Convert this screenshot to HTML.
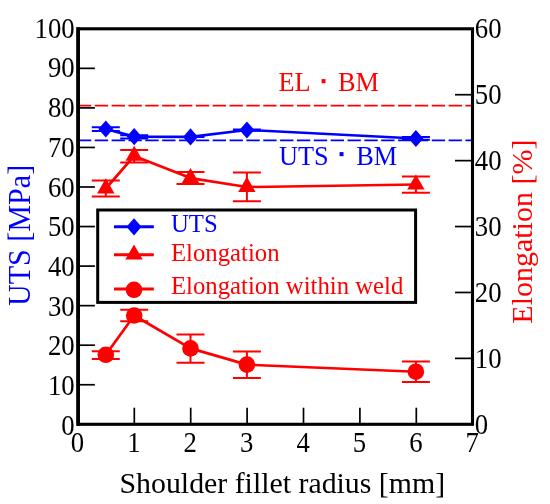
<!DOCTYPE html>
<html lang="en"><head><meta charset="utf-8"><title>UTS and elongation vs shoulder fillet radius</title>
<style>html,body{margin:0;padding:0;background:#fff}svg{display:block}text{font-family:'Liberation Serif', 'IPAGothic', serif}</style></head><body>
<svg width="550" height="504" viewBox="0 0 550 504">
<rect width="550" height="504" fill="#fff"/>
<line x1="78.30" y1="384.75" x2="94.90" y2="384.75" stroke="#000" stroke-width="1.7"/>
<line x1="78.30" y1="345.20" x2="94.90" y2="345.20" stroke="#000" stroke-width="1.7"/>
<line x1="78.30" y1="305.65" x2="94.90" y2="305.65" stroke="#000" stroke-width="1.7"/>
<line x1="78.30" y1="266.10" x2="94.90" y2="266.10" stroke="#000" stroke-width="1.7"/>
<line x1="78.30" y1="226.55" x2="94.90" y2="226.55" stroke="#000" stroke-width="1.7"/>
<line x1="78.30" y1="187.00" x2="94.90" y2="187.00" stroke="#000" stroke-width="1.7"/>
<line x1="78.30" y1="147.45" x2="94.90" y2="147.45" stroke="#000" stroke-width="1.7"/>
<line x1="78.30" y1="107.90" x2="94.90" y2="107.90" stroke="#000" stroke-width="1.7"/>
<line x1="78.30" y1="68.35" x2="94.90" y2="68.35" stroke="#000" stroke-width="1.7"/>
<line x1="455.00" y1="358.38" x2="472.50" y2="358.38" stroke="#000" stroke-width="1.7"/>
<line x1="455.00" y1="292.47" x2="472.50" y2="292.47" stroke="#000" stroke-width="1.7"/>
<line x1="455.00" y1="226.55" x2="472.50" y2="226.55" stroke="#000" stroke-width="1.7"/>
<line x1="455.00" y1="160.63" x2="472.50" y2="160.63" stroke="#000" stroke-width="1.7"/>
<line x1="455.00" y1="94.72" x2="472.50" y2="94.72" stroke="#000" stroke-width="1.7"/>
<line x1="134.30" y1="424.30" x2="134.30" y2="407.70" stroke="#000" stroke-width="1.7"/>
<line x1="190.70" y1="424.30" x2="190.70" y2="407.70" stroke="#000" stroke-width="1.7"/>
<line x1="247.10" y1="424.30" x2="247.10" y2="407.70" stroke="#000" stroke-width="1.7"/>
<line x1="303.50" y1="424.30" x2="303.50" y2="407.70" stroke="#000" stroke-width="1.7"/>
<line x1="359.90" y1="424.30" x2="359.90" y2="407.70" stroke="#000" stroke-width="1.7"/>
<line x1="416.30" y1="424.30" x2="416.30" y2="407.70" stroke="#000" stroke-width="1.7"/>
<line x1="77.90" y1="105.7" x2="472.50" y2="105.7" stroke="#ff0000" stroke-width="1.8" stroke-dasharray="13.35 3.5"/>
<line x1="77.90" y1="140.45" x2="472.50" y2="140.45" stroke="#0000ff" stroke-width="1.8" stroke-dasharray="13.35 3.5"/>
<polyline fill="none" stroke="#0000ff" stroke-width="2.7" stroke-linejoin="round" points="105.8,129.0 134.2,136.6 190.5,136.9 246.9,130.0"/>
<line x1="246.9" y1="130.0" x2="415.9" y2="138.5" stroke="#0000ff" stroke-width="2.5"/>
<path d="M91.8 127.3H119.8M91.8 131.1H119.8M105.8 127.3V131.1" stroke="#0000ff" stroke-width="2" fill="none"/>
<path d="M105.8 120.4L113.3 129.0L105.8 137.6L98.3 129.0Z" fill="#0000ff"/>
<path d="M120.2 135.2H148.2M120.2 138.6H148.2M134.2 135.2V138.6" stroke="#0000ff" stroke-width="2" fill="none"/>
<path d="M134.2 128.0L141.7 136.6L134.2 145.2L126.7 136.6Z" fill="#0000ff"/>
<path d="M176.5 136.9H204.5M176.5 136.9H204.5M190.5 136.9V136.9" stroke="#0000ff" stroke-width="2" fill="none"/>
<path d="M190.5 128.3L198.0 136.9L190.5 145.5L183.0 136.9Z" fill="#0000ff"/>
<path d="M232.9 129.5H260.9M232.9 130.7H260.9M246.9 129.5V130.7" stroke="#0000ff" stroke-width="2" fill="none"/>
<path d="M246.9 121.4L254.4 130.0L246.9 138.6L239.4 130.0Z" fill="#0000ff"/>
<path d="M401.9 137.1H429.9M401.9 139.8H429.9M415.9 137.1V139.8" stroke="#0000ff" stroke-width="2" fill="none"/>
<path d="M415.9 129.9L423.4 138.5L415.9 147.1L408.4 138.5Z" fill="#0000ff"/>
<polyline fill="none" stroke="#ff0000" stroke-width="2.7" stroke-linejoin="round" points="105.8,188.5 134.2,155.9 190.5,178.1 246.9,187.0"/>
<line x1="246.9" y1="187.0" x2="415.9" y2="184.6" stroke="#ff0000" stroke-width="2.5"/>
<path d="M91.8 180.4H119.8M91.8 196.6H119.8M105.8 180.4V196.6" stroke="#ff0000" stroke-width="2" fill="none"/>
<path d="M105.8 178.3L114.5 193.4L97.1 193.4Z" fill="#ff0000"/>
<path d="M120.2 149.9H148.2M120.2 162.4H148.2M134.2 149.9V162.4" stroke="#ff0000" stroke-width="2" fill="none"/>
<path d="M134.2 145.7L142.9 160.8L125.5 160.8Z" fill="#ff0000"/>
<path d="M176.5 172.1H204.5M176.5 184.1H204.5M190.5 172.1V184.1" stroke="#ff0000" stroke-width="2" fill="none"/>
<path d="M190.5 167.9L199.2 183.0L181.8 183.0Z" fill="#ff0000"/>
<path d="M232.9 172.6H260.9M232.9 201.2H260.9M246.9 172.6V201.2" stroke="#ff0000" stroke-width="2" fill="none"/>
<path d="M246.9 176.8L255.6 191.9L238.2 191.9Z" fill="#ff0000"/>
<path d="M401.9 176.4H429.9M401.9 192.8H429.9M415.9 176.4V192.8" stroke="#ff0000" stroke-width="2" fill="none"/>
<path d="M415.9 174.4L424.6 189.5L407.2 189.5Z" fill="#ff0000"/>
<polyline fill="none" stroke="#ff0000" stroke-width="2.7" stroke-linejoin="round" points="105.8,354.8 134.2,315.5 190.5,348.4 246.9,364.6"/>
<line x1="246.9" y1="364.6" x2="415.9" y2="371.7" stroke="#ff0000" stroke-width="2.5"/>
<path d="M91.8 351.3H119.8M91.8 359.1H119.8M105.8 351.3V359.1" stroke="#ff0000" stroke-width="2" fill="none"/>
<circle cx="105.8" cy="354.8" r="8.3" fill="#ff0000"/>
<path d="M120.2 309.8H148.2M120.2 321.3H148.2M134.2 309.8V321.3" stroke="#ff0000" stroke-width="2" fill="none"/>
<circle cx="134.2" cy="315.5" r="8.3" fill="#ff0000"/>
<path d="M176.5 334.6H204.5M176.5 362.8H204.5M190.5 334.6V362.8" stroke="#ff0000" stroke-width="2" fill="none"/>
<circle cx="190.5" cy="348.4" r="8.3" fill="#ff0000"/>
<path d="M232.9 351.4H260.9M232.9 378.0H260.9M246.9 351.4V378.0" stroke="#ff0000" stroke-width="2" fill="none"/>
<circle cx="246.9" cy="364.6" r="8.3" fill="#ff0000"/>
<path d="M401.9 361.6H429.9M401.9 382.0H429.9M415.9 361.6V382.0" stroke="#ff0000" stroke-width="2" fill="none"/>
<circle cx="415.9" cy="371.7" r="8.3" fill="#ff0000"/>
<rect x="97.7" y="210.0" width="317.9" height="92.4" fill="#fff" stroke="#000" stroke-width="3"/>
<line x1="114" y1="226.8" x2="153.8" y2="226.8" stroke="#0000ff" stroke-width="2.9"/>
<path d="M134.0 218.2L141.5 226.8L134.0 235.4L126.5 226.8Z" fill="#0000ff"/>
<line x1="114" y1="254.7" x2="153.8" y2="254.7" stroke="#ff0000" stroke-width="2.9"/>
<path d="M134.0 244.5L142.7 259.6L125.3 259.6Z" fill="#ff0000"/>
<line x1="114" y1="289.0" x2="153.8" y2="289.0" stroke="#ff0000" stroke-width="2.9"/>
<circle cx="134.0" cy="289.8" r="8.3" fill="#ff0000"/>
<text transform="translate(171.00 232.40) scale(1.0000 0.9850)" font-size="24.75" fill="#0000ff" text-anchor="start">UTS</text>
<text transform="translate(171.00 260.80) scale(1.0000 0.9850)" font-size="24.75" fill="#ff0000" text-anchor="start">Elongation</text>
<text transform="translate(171.00 294.20) scale(1.0000 0.9750)" font-size="24.75" fill="#ff0000" text-anchor="start">Elongation within weld</text>
<text transform="translate(278.50 91.00) scale(1.0000 1.0400)" font-size="26.3" fill="#ff0000" text-anchor="start">EL<tspan font-size="29.5" dx="-1.6" dy="1.6">・</tspan><tspan dx="-0.6" dy="-1.6">BM</tspan></text>
<text transform="translate(279.00 164.60) scale(1.0000 1.0400)" font-size="26.3" fill="#0000ff" text-anchor="start">UTS<tspan font-size="29.5" dx="-1.6" dy="1.6">・</tspan><tspan dx="-0.4" dy="-1.6">BM</tspan></text>
<rect x="78.30" y="28.80" width="394.20" height="395.50" fill="none" stroke="#000" stroke-width="3.1"/>
<line x1="78.05" y1="27.25" x2="78.05" y2="425.85" stroke="#000" stroke-width="3.7"/>
<text transform="translate(74.70 434.60) scale(0.9300 1.0000)" font-size="28.8" fill="#000" text-anchor="end">0</text>
<text transform="translate(74.70 394.92) scale(0.9300 1.0000)" font-size="28.8" fill="#000" text-anchor="end">10</text>
<text transform="translate(74.70 355.24) scale(0.9300 1.0000)" font-size="28.8" fill="#000" text-anchor="end">20</text>
<text transform="translate(74.70 315.56) scale(0.9300 1.0000)" font-size="28.8" fill="#000" text-anchor="end">30</text>
<text transform="translate(74.70 275.88) scale(0.9300 1.0000)" font-size="28.8" fill="#000" text-anchor="end">40</text>
<text transform="translate(74.70 236.20) scale(0.9300 1.0000)" font-size="28.8" fill="#000" text-anchor="end">50</text>
<text transform="translate(74.70 196.52) scale(0.9300 1.0000)" font-size="28.8" fill="#000" text-anchor="end">60</text>
<text transform="translate(74.70 156.84) scale(0.9300 1.0000)" font-size="28.8" fill="#000" text-anchor="end">70</text>
<text transform="translate(74.70 117.16) scale(0.9300 1.0000)" font-size="28.8" fill="#000" text-anchor="end">80</text>
<text transform="translate(74.70 77.48) scale(0.9300 1.0000)" font-size="28.8" fill="#000" text-anchor="end">90</text>
<text transform="translate(74.70 37.80) scale(0.9300 1.0000)" font-size="28.8" fill="#000" text-anchor="end">100</text>
<text transform="translate(474.80 434.05) scale(0.9300 1.0000)" font-size="28.8" fill="#000" text-anchor="start">0</text>
<text transform="translate(474.80 367.97) scale(0.9300 1.0000)" font-size="28.8" fill="#000" text-anchor="start">10</text>
<text transform="translate(474.80 301.90) scale(0.9300 1.0000)" font-size="28.8" fill="#000" text-anchor="start">20</text>
<text transform="translate(474.80 235.83) scale(0.9300 1.0000)" font-size="28.8" fill="#000" text-anchor="start">30</text>
<text transform="translate(474.80 169.75) scale(0.9300 1.0000)" font-size="28.8" fill="#000" text-anchor="start">40</text>
<text transform="translate(474.80 103.68) scale(0.9300 1.0000)" font-size="28.8" fill="#000" text-anchor="start">50</text>
<text transform="translate(474.80 37.60) scale(0.9300 1.0000)" font-size="28.8" fill="#000" text-anchor="start">60</text>
<text transform="translate(77.50 451.60) scale(0.9300 1.0000)" font-size="28.8" fill="#000" text-anchor="middle">0</text>
<text transform="translate(133.90 451.60) scale(0.9300 1.0000)" font-size="28.8" fill="#000" text-anchor="middle">1</text>
<text transform="translate(190.30 451.60) scale(0.9300 1.0000)" font-size="28.8" fill="#000" text-anchor="middle">2</text>
<text transform="translate(246.70 451.60) scale(0.9300 1.0000)" font-size="28.8" fill="#000" text-anchor="middle">3</text>
<text transform="translate(303.10 451.60) scale(0.9300 1.0000)" font-size="28.8" fill="#000" text-anchor="middle">4</text>
<text transform="translate(359.50 451.60) scale(0.9300 1.0000)" font-size="28.8" fill="#000" text-anchor="middle">5</text>
<text transform="translate(415.90 451.60) scale(0.9300 1.0000)" font-size="28.8" fill="#000" text-anchor="middle">6</text>
<text transform="translate(472.30 451.60) scale(0.9300 1.0000)" font-size="28.8" fill="#000" text-anchor="middle">7</text>
<text transform="translate(282.30 492.60) scale(0.9950 1.0000)" font-size="30.0" fill="#000" text-anchor="middle">Shoulder fillet radius [mm]</text>
<text transform="translate(29.60 235.40) rotate(-90) scale(1.0000 1.0200)" font-size="30.1" fill="#0000ff" text-anchor="middle">UTS [MPa]</text>
<text transform="translate(531.50 231.65) rotate(-90) scale(1.0000 1.0050)" font-size="30.0" fill="#ff0000" text-anchor="middle">Elongation [%]</text>
</svg></body></html>
